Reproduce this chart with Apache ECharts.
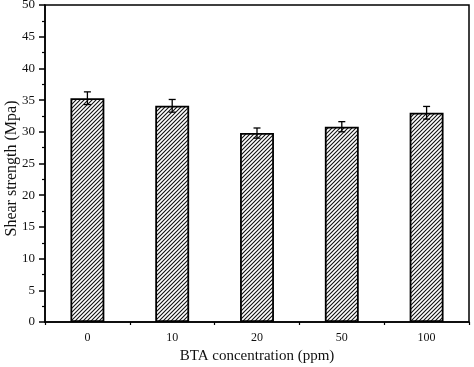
<!DOCTYPE html>
<html>
<head>
<meta charset="utf-8">
<script src="https://cdn.jsdelivr.net/npm/echarts@6/dist/echarts.min.js"></script>
<style>html,body{margin:0;padding:0;background:#fff}#c{width:474px;height:367px}</style>
</head>
<body>
<div id="c"></div>
<script>
const categories = ['0', '10', '20', '50', '100'];
const strength = [35.3, 34.1, 29.8, 30.8, 33.0];
const errors = [1.0, 1.0, 0.8, 0.8, 1.0];
const yTicks = [0, 5, 10, 15, 20, 25, 30, 35, 40, 45, 50];

const FONT = '"Liberation Serif", "Times New Roman", serif';

// hatch pattern
const pc = document.createElement('canvas');
pc.width = 4; pc.height = 4;
const px = pc.getContext('2d');
px.fillStyle = '#fff'; px.fillRect(0, 0, 4, 4);
px.strokeStyle = '#111'; px.lineWidth = 1.1;
px.beginPath();
px.moveTo(-1, 5); px.lineTo(5, -1);
px.moveTo(-1, 1); px.lineTo(1, -1);
px.moveTo(3, 5); px.lineTo(5, 3);
px.stroke();

const chart = echarts.init(document.getElementById('c'));
chart.setOption({
  animation: false,
  backgroundColor: '#fff',
  grid: { left: 45, right: 5, top: 5, bottom: 45, outerBoundsMode: 'none', containLabel: false, show: true, borderColor: '#000', borderWidth: 1.5, backgroundColor: 'transparent' },
  xAxis: [{
    type: 'category', data: categories, position: 'bottom',
    name: 'BTA concentration (ppm)', nameLocation: 'middle', nameGap: 27, nameMoveOverlap: false,
    nameTextStyle: { fontFamily: FONT, fontSize: 15, color: '#111' },
    axisLine: { lineStyle: { color: '#000', width: 1.5 } },
    axisTick: { alignWithLabel: true, length: 5, lineStyle: { color: '#000', width: 1.5 } },
    axisLabel: { fontFamily: FONT, fontSize: 12, color: '#111', margin: 10 }
  }, {
    type: 'category', data: categories, position: 'bottom',
    axisLine: { show: false },
    axisTick: { show: true, alignWithLabel: false, length: 3, lineStyle: { color: '#000', width: 1.2 } },
    axisLabel: { show: false }
  }],
  yAxis: {
    type: 'value', min: yTicks[0], max: yTicks[yTicks.length - 1], interval: 5,
    name: 'Shear strength (Mpa)', nameLocation: 'middle', nameGap: 25, nameMoveOverlap: false,
    nameTextStyle: { fontFamily: FONT, fontSize: 16, color: '#111', padding: [0, 10, 0, 0] },
    axisLine: { show: true, lineStyle: { color: '#000', width: 1.5 } },
    axisTick: { show: true, length: 6, lineStyle: { color: '#000', width: 1.5 } },
    minorTick: { show: true, splitNumber: 2, length: 3, lineStyle: { color: '#000', width: 1.2 } },
    splitLine: { show: false },
    axisLabel: { fontFamily: FONT, fontSize: 13, color: '#111', margin: 10 }
  },
  series: [{
    type: 'bar', data: strength, barWidth: '40%',
    itemStyle: { color: { image: pc, repeat: 'repeat' }, borderColor: '#000', borderWidth: 1.8 }
  }, {
    type: 'custom',
    data: strength.map((v, i) => [i, v - errors[i], v + errors[i]]),
    renderItem: function (params, api) {
      const lo = api.coord([api.value(0), api.value(1)]);
      const hi = api.coord([api.value(0), api.value(2)]);
      const w = 3.5;
      const st = { stroke: '#000', lineWidth: 1.3, fill: null };
      return {
        type: 'group', children: [
          { type: 'line', shape: { x1: hi[0], y1: hi[1], x2: lo[0], y2: lo[1] }, style: st },
          { type: 'line', shape: { x1: hi[0] - w, y1: hi[1], x2: hi[0] + w, y2: hi[1] }, style: st },
          { type: 'line', shape: { x1: lo[0] - w, y1: lo[1], x2: lo[0] + w, y2: lo[1] }, style: st }
        ]
      };
    },
    z: 5
  }]
});
</script>
</body>
</html>
